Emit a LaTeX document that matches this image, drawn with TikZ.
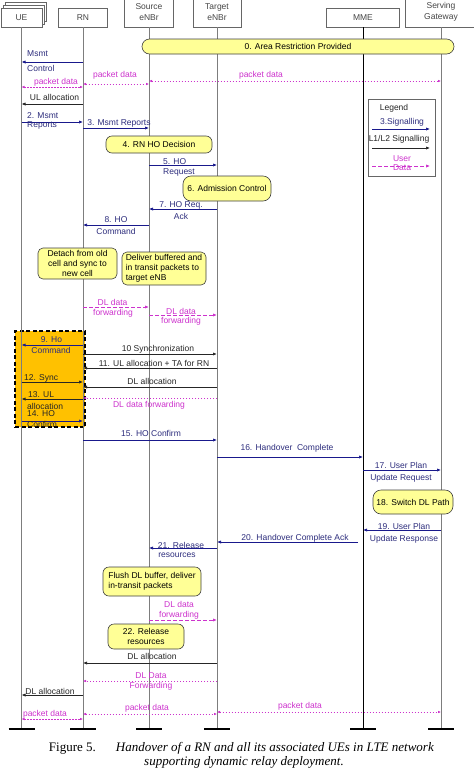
\documentclass[tikz,border=0pt]{standalone}
\usepackage{fontspec}
\setmainfont{Liberation Sans}
\newfontfamily\capfont{Liberation Serif}
\usetikzlibrary{arrows.meta}
\definecolor{navy}{RGB}{25,25,140}
\definecolor{navytxt}{RGB}{45,45,125}
\definecolor{mag}{RGB}{205,50,205}
\definecolor{lifegray}{RGB}{125,125,125}
\definecolor{hdrtxt}{RGB}{70,70,70}
\definecolor{yfill}{RGB}{255,255,150}
\definecolor{ofill}{RGB}{255,193,0}
\begin{document}
\begin{tikzpicture}[x=1pt,y=-1pt,
  hdr/.style={draw=black!60, fill=white, text=hdrtxt, font=\fontsize{8.5}{11}\selectfont, align=center, inner sep=0pt, line width=0.6pt},
  life/.style={draw=lifegray, line width=0.8pt},
  bar/.style={draw=black, line width=1.8pt},
  ybox/.style={draw=black!75, fill=yfill, rounded corners=6pt, font=\fontsize{8.5}{10}\selectfont, align=center, inner sep=1pt, line width=0.6pt},
  obox/.style={draw=black, fill=ofill, line width=1.3pt, dash pattern=on 4pt off 2.5pt},
  lbl/.style={font=\fontsize{8.5}{9}\selectfont, inner sep=0pt},
  nlbl/.style={lbl, text=navytxt},
  klbl/.style={lbl, text=black!85},
  mlbl/.style={lbl, text=mag},
  sig/.style={draw=navy, line width=0.7pt, -{Latex[length=4pt,width=3.2pt]}},
  lsig/.style={draw=black!85, line width=0.7pt, -{Latex[length=4pt,width=3.2pt]}},
  pdata/.style={draw=mag, line width=0.6pt, dash pattern=on 1.5pt off 1.5pt, {Latex[length=3pt,width=2.6pt]}-{Latex[length=3pt,width=2.6pt]}},
  fwd/.style={draw=mag, line width=0.9pt, dash pattern=on 3.5pt off 2.5pt, -{Latex[length=4pt,width=3.2pt]}},
  fdot/.style={draw=mag, line width=0.6pt, dash pattern=on 1.5pt off 1.5pt, -{Latex[length=3pt,width=2.6pt]}}
]
\fill[white] (0,0) rectangle (474,774);
\useasboundingbox (0,0) rectangle (474,774);

% orange group box (behind lifelines)
\node[obox, minimum width=70, minimum height=96] (orange) at (50,379) {};

% headers
\draw[hdr] (5,2) rectangle (46,21);
\draw[hdr] (3,5) rectangle (44,24);
\node[hdr, minimum width=41, minimum height=19] (ue) at (21.5,17.5) {UE};
\node[hdr, minimum width=49, minimum height=19] (rn) at (83,17.5) {RN};
\node[hdr, minimum width=49, minimum height=30] (src) at (149,12) {Source\\eNBr};
\node[hdr, minimum width=48, minimum height=30] (tgt) at (217,12) {Target\\eNBr};
\node[hdr, minimum width=73, minimum height=19] (mme) at (363,17.5) {MME};
\node[hdr, minimum width=72, minimum height=30] (sgw) at (441,12) {Serving\\Gateway};

% lifelines and end bars
\foreach \n in {ue,rn,src,tgt,sgw} {
  \coordinate (\n e) at (\n.south |- 0,729);
  \draw[life] (\n.south) -- (\n e);
}
\coordinate (mmee) at (mme.south |- 0,729);
\draw[life, draw=black] (mme.south) -- (mmee);
\foreach \n in {ue,rn,src,tgt,mme,sgw}
  \draw[bar] ([xshift=-13pt]\n e) -- ([xshift=13pt]\n e);

% 0
\node[ybox, rounded corners=7.5pt, minimum width=312, minimum height=15, inner sep=0pt] (area) at (298,46.5) {0. Area Restriction Provided};

% Msmt control
\draw[sig] (rn |- 0,62) -- (ue |- 0,62);
\node[nlbl, anchor=west] (t1a) at (27,54) {Msmt};
\node[nlbl, anchor=west] (t1b) at (27,68) {Control};

% packet data
\draw[pdata] (ue |- 0,87) -- (rn |- 0,87);
\node[mlbl] (t2) at (56,82) {packet data};
\draw[pdata] (rn |- 0,84) -- (src |- 0,84);
\node[mlbl] (t3) at (115,75) {packet data};
\draw[pdata] (src |- 0,81) -- (sgw |- 0,81);
\node[mlbl] (t4) at (261,75) {packet data};

% UL allocation
\draw[lsig] (rn |- 0,104) -- (ue |- 0,104);
\node[klbl] (t5) at (54.5,97) {UL allocation};

% 2. Msmt reports
\draw[sig] (ue |- 0,122) -- (rn |- 0,122);
\node[nlbl, anchor=west] (t6a) at (27,116) {2. Msmt};
\node[nlbl, anchor=west] (t6b) at (27,125.5) {Reports};

% 3. Msmt reports
\draw[sig] (rn |- 0,128) -- (src |- 0,128);
\node[nlbl] (t7) at (119,123.5) {3. Msmt Reports};

% 4.
\node[ybox, minimum width=106, minimum height=17] (b4) at (159,144.5) {4. RN HO Decision};

% 5.
\draw[sig] (src |- 0,165) -- (tgt |- 0,165);
\node[nlbl, anchor=west] (t8a) at (163,161.5) {5. HO};
\node[nlbl, anchor=west] (t8b) at (163,172) {Request};

% 6.
\node[ybox, rounded corners=8pt, minimum width=88, minimum height=25, inner sep=0pt] (b6) at (227,188.5) {6. Admission Control};

% 7.
\draw[sig] (tgt |- 0,209) -- (src |- 0,209);
\node[nlbl] (t9a) at (181,205.5) {7. HO Req.};
\node[nlbl] (t9b) at (181,216) {Ack};

% 8.
\draw[sig] (src |- 0,225) -- (rn |- 0,225);
\node[nlbl] (t10a) at (116,220) {8. HO};
\node[nlbl] (t10b) at (116,231) {Command};

% detach / deliver
\node[ybox, rounded corners=5pt, minimum width=79, minimum height=31, inner sep=0pt] (bdet) at (77.5,263.5) {Detach from old\\cell and sync to\\new cell};
\node[ybox, rounded corners=5pt, minimum width=84, minimum height=33, inner sep=0pt, align=left] (bdel) at (164,268.5) {Deliver buffered and\\in transit packets to\\target eNB};

% DL data forwarding
\draw[fwd] (rn |- 0,307) -- (src |- 0,307);
\node[mlbl] (t11a) at (112.5,302) {DL data};
\node[mlbl] (t11b) at (113,313) {forwarding};
\draw[fwd] (src |- 0,315) -- (tgt |- 0,315);
\node[mlbl] (t12a) at (181,311) {DL data};
\node[mlbl] (t12b) at (181,321) {forwarding};

% 9 - 14
\draw[sig] (rn |- 0,345) -- (ue |- 0,345);
\node[nlbl] (t13a) at (51.5,340) {9. Ho};
\node[nlbl] (t13b) at (51,350) {Command};
\draw[lsig, line width=1pt] (rn |- 0,354) -- (tgt |- 0,354);
\node[klbl] (t14) at (158,349) {10 Synchronization};
\draw[lsig] (tgt |- 0,368) -- (rn |- 0,368);
\node[klbl] (t15) at (154,363) {11. UL allocation + TA for RN};
\draw[lsig] (ue |- 0,382) -- (rn |- 0,382);
\node[klbl, anchor=west] (t16) at (24,378) {12. Sync};
\draw[lsig] (tgt |- 0,387) -- (rn |- 0,387);
\node[klbl] (t17) at (152,381) {DL allocation};
\draw[lsig] (rn |- 0,399) -- (ue |- 0,399);
\node[klbl, anchor=west] (t18a) at (28,395) {13. UL};
\node[klbl, anchor=west] (t18b) at (27,406) {allocation};
\draw[fdot] (tgt |- 0,398) -- (rn |- 0,398);
\node[mlbl] (t19) at (149,405) {DL data forwarding};
\draw[sig] (ue |- 0,421) -- (rn |- 0,421);
\node[klbl, anchor=west] (t20a) at (27,414) {14. HO};
\node[klbl, anchor=west] (t20b) at (27,424) {Confirm};

% 15
\draw[sig] (rn |- 0,440) -- (tgt |- 0,440);
\node[nlbl] (t21) at (151,433) {15. HO Confirm};

% 16
\draw[sig] (tgt |- 0,457) -- (mme |- 0,457);
\node[nlbl] (t22) at (287,448) {16. Handover\ \ Complete};

% 17
\draw[sig] (mme |- 0,470) -- (sgw |- 0,470);
\node[nlbl] (t23a) at (401,465) {17. User Plan};
\node[nlbl] (t23b) at (401,478) {Update Request};

% 18
\node[ybox, rounded corners=8pt, minimum width=80, minimum height=24, inner sep=0pt] (b18) at (413,502) {18. Switch DL Path};

% 19
\draw[sig] (sgw |- 0,530) -- (mme |- 0,530);
\node[nlbl] (t24a) at (404,526) {19. User Plan};
\node[nlbl] (t24b) at (404,539) {Update Response};

% 20
\draw[sig, shorten <=5pt] (mme |- 0,542) -- (tgt |- 0,542);
\node[nlbl] (t25) at (295,538) {20. Handover Complete Ack};

% 21
\draw[sig] (tgt |- 0,548) -- (src |- 0,548);
\node[nlbl] (t26a) at (181,545) {21. Release};
\node[nlbl] (t26b) at (177,555.5) {resources};

% flush
\node[ybox, rounded corners=6pt, minimum width=98, minimum height=29, inner sep=0pt, align=left] (bfl) at (152,581.5) {Flush DL buffer, deliver\\in-transit packets};

% DL data forwarding
\draw[fwd] (src |- 0,620) -- (tgt |- 0,620);
\node[mlbl] (t27a) at (179,604.5) {DL data};
\node[mlbl] (t27b) at (179,615) {forwarding};

% 22
\node[ybox, rounded corners=6pt, minimum width=76, minimum height=25, inner sep=0pt] (b22) at (146,636.5) {22. Release\\resources};

% DL allocation
\draw[lsig] (tgt |- 0,663) -- (rn |- 0,663);
\node[klbl] (t28) at (152,656) {DL allocation};

% DL Data Forwarding
\draw[fdot] (tgt |- 0,681) -- (rn |- 0,681);
\node[mlbl] (t29a) at (151,676) {DL Data};
\node[mlbl] (t29b) at (151,686.5) {Forwarding};

% DL allocation to UE
\draw[lsig] (rn |- 0,695) -- (ue |- 0,695);
\node[klbl] (t30) at (50,691) {DL allocation};

% packet data bottom
\draw[pdata] (ue |- 0,719) -- (rn |- 0,719);
\node[mlbl] (t31) at (45,714) {packet data};
\draw[pdata] (rn |- 0,714) -- (tgt |- 0,714);
\node[mlbl] (t32) at (147,708) {packet data};
\draw[pdata] (tgt |- 0,712) -- (sgw |- 0,712);
\node[mlbl] (t33) at (300,706) {packet data};

% legend
\node[draw=black!60, line width=0.6pt, fill=white, minimum width=67, minimum height=77, inner sep=0pt] (legend) at (401.5,137.5) {};
\node[klbl] (lg0) at (394,108) {Legend};
\node[nlbl] (lg1) at (402,122) {3.Signalling};
\coordinate (lg1a) at (372,129); \coordinate (lg1b) at (430,129);
\draw[sig] (lg1a) -- (lg1b);
\node[klbl] (lg2) at (399,139.5) {L1/L2 Signalling};
\coordinate (lg2a) at (372,148); \coordinate (lg2b) at (430,148);
\draw[lsig] (lg2a) -- (lg2b);
\node[mlbl] (lg3a) at (402,158.5) {User};
\node[mlbl] (lg3b) at (402,167.5) {Data};
\coordinate (lg3c) at (372,166); \coordinate (lg3d) at (430,166);
\draw[fwd, line width=0.7pt] (lg3c) -- (lg3d);

% caption
\node[font=\capfont\fontsize{13}{14}\selectfont, inner sep=0pt] (cap1) at (241.5,748) {Figure 5.\hspace{20pt}\textit{Handover of a RN and all its associated UEs in LTE network}};
\node[font=\capfont\fontsize{13}{14}\selectfont, inner sep=0pt] (cap2) at (244,762.5) {\textit{supporting dynamic relay deployment.}};
\end{tikzpicture}
\end{document}
